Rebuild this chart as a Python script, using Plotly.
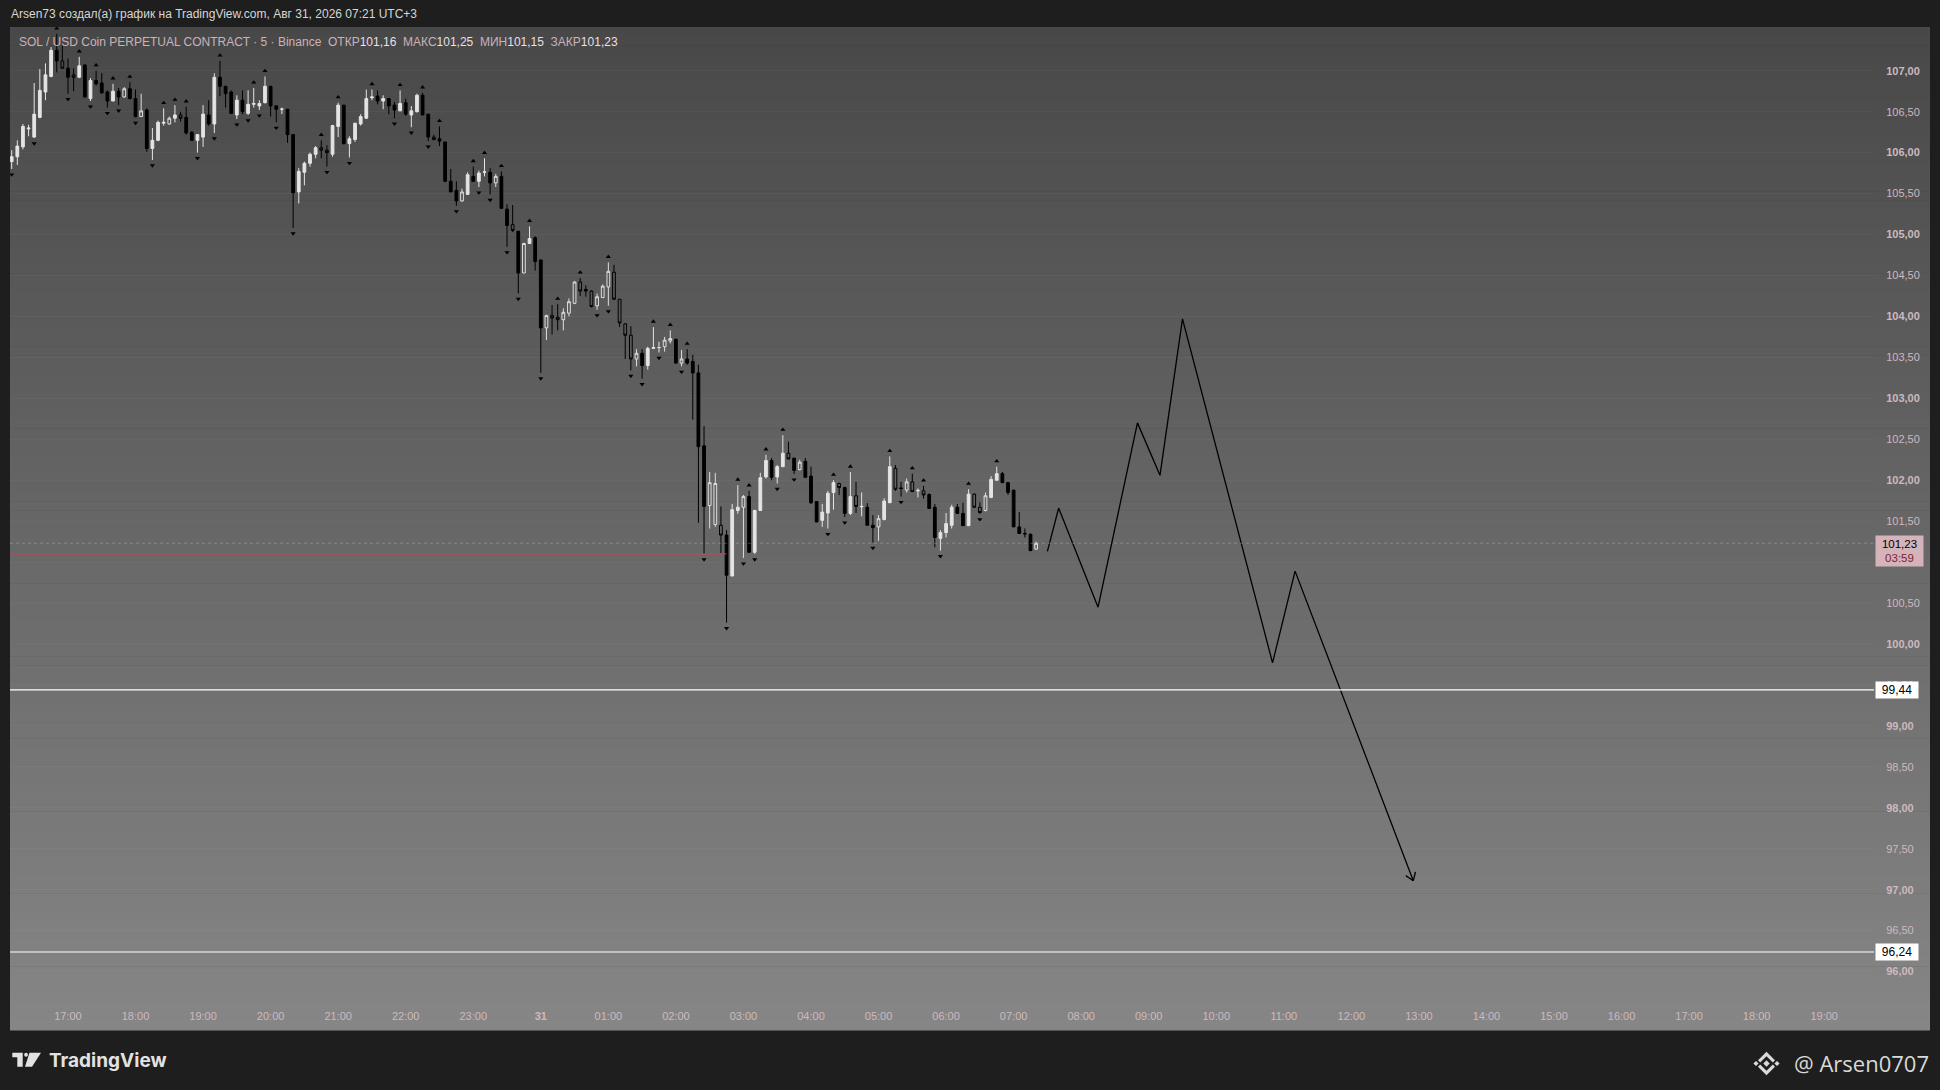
import math
import pandas as pd
import plotly.graph_objects as go

# ---------------- data ----------------
start_time = "2026-08-30 16:10"
opens = [
    105.89, 105.95, 106.07, 106.29, 106.19, 106.43, 106.74, 106.93, 107.25, 107.12,
    107.03, 106.95, 106.92, 107.07, 106.66, 106.88, 106.85, 106.74, 106.63, 106.75,
    106.68, 106.78, 106.66, 106.44, 106.52, 106.05, 106.15, 106.36, 106.35, 106.42,
    106.46, 106.43, 106.25, 106.15, 106.19, 106.46, 106.35, 106.92, 106.81, 106.74,
    106.46, 106.64, 106.48, 106.59, 106.57, 106.61, 106.81, 106.57, 106.53, 106.53,
    106.22, 105.52, 105.76, 105.87, 105.98, 106.06, 106.03, 105.98, 106.32, 106.58,
    106.11, 106.16, 106.35, 106.42, 106.67, 106.69, 106.63, 106.66, 106.58, 106.51,
    106.61, 106.46, 106.50, 106.70, 106.47, 106.19, 106.17, 106.13, 105.65, 105.54,
    105.41, 105.49, 105.71, 105.65, 105.76, 105.76, 105.63, 105.71, 105.31, 105.12,
    105.04, 104.53, 104.89, 104.96, 104.69, 103.86, 104.01, 103.99, 103.96, 104.04,
    104.16, 104.42, 104.33, 104.31, 104.13, 104.23, 104.36, 104.54, 104.21, 103.91,
    103.77, 103.48, 103.55, 103.40, 103.61, 103.62, 103.63, 103.70, 103.72, 103.43,
    103.48, 103.45, 103.31, 102.42, 101.69, 101.46, 101.45, 101.33, 100.83, 101.63,
    101.67, 101.80, 101.12, 101.63, 102.04, 102.24, 102.04, 102.165, 102.33, 102.27,
    102.13, 102.23, 102.05, 101.74, 101.51, 101.60, 101.85, 101.96, 101.91, 101.595,
    101.81, 101.675, 101.67, 101.45, 101.43, 101.52, 101.725, 102.145, 101.905, 101.88,
    101.98, 101.87, 101.87, 101.825, 101.67, 101.29, 101.36, 101.45, 101.67, 101.595,
    101.445, 101.83, 101.67, 101.63, 101.79, 102.00, 102.08, 101.97, 101.88, 101.43,
    101.35, 101.34, 101.16,
]
highs = [
    106.03, 106.15, 106.35, 106.34, 106.85, 107.02, 107.09, 107.29, 107.45, 107.31,
    107.15, 107.03, 107.17, 107.08, 106.91, 107.00, 106.97, 106.76, 106.84, 106.79,
    106.80, 106.86, 106.77, 106.72, 106.54, 106.30, 106.39, 106.54, 106.44, 106.58,
    106.50, 106.56, 106.26, 106.22, 106.58, 106.64, 106.97, 107.12, 106.81, 106.76,
    106.70, 106.76, 106.76, 106.79, 106.64, 106.93, 106.81, 106.58, 106.55, 106.53,
    106.22, 105.81, 105.89, 106.00, 106.08, 106.15, 106.09, 106.34, 106.61, 106.58,
    106.20, 106.36, 106.47, 106.77, 106.77, 106.76, 106.70, 106.66, 106.62, 106.76,
    106.66, 106.57, 106.72, 106.73, 106.47, 106.22, 106.32, 106.13, 105.80, 105.65,
    105.56, 105.76, 105.83, 105.78, 105.93, 105.81, 105.74, 105.77, 105.37, 105.36,
    105.04, 104.90, 105.10, 104.98, 104.69, 104.02, 104.14, 104.15, 104.10, 104.22,
    104.43, 104.47, 104.38, 104.32, 104.28, 104.39, 104.66, 104.63, 104.21, 103.91,
    103.88, 103.60, 103.60, 103.63, 103.87, 103.69, 103.75, 103.83, 103.73, 103.59,
    103.60, 103.53, 103.41, 102.66, 102.10, 102.09, 101.68, 101.39, 101.71, 101.94,
    101.82, 101.87, 101.64, 102.09, 102.31, 102.27, 102.185, 102.55, 102.47, 102.27,
    102.25, 102.27, 102.165, 101.74, 101.71, 101.87, 102.00, 101.97, 101.92, 102.10,
    101.98, 101.85, 101.72, 101.575, 101.575, 101.78, 102.29, 102.185, 101.98, 102.02,
    102.08, 101.90, 101.93, 101.84, 101.71, 101.39, 101.60, 101.70, 101.71, 101.725,
    101.89, 101.84, 101.73, 101.85, 102.05, 102.165, 102.10, 101.98, 101.88, 101.61,
    101.41, 101.35, 101.25,
]
lows = [
    105.80, 105.85, 106.04, 106.20, 106.18, 106.42, 106.64, 106.92, 106.98, 107.03,
    106.72, 106.75, 106.91, 106.67, 106.63, 106.82, 106.72, 106.55, 106.63, 106.58,
    106.67, 106.65, 106.43, 106.44, 106.01, 105.91, 106.14, 106.33, 106.34, 106.37,
    106.38, 106.22, 106.15, 106.00, 106.07, 106.33, 106.24, 106.69, 106.55, 106.47,
    106.41, 106.47, 106.46, 106.55, 106.52, 106.60, 106.44, 106.37, 106.47, 106.12,
    105.08, 105.38, 105.60, 105.83, 105.93, 105.93, 105.83, 105.95, 106.19, 106.10,
    105.94, 106.13, 106.33, 106.41, 106.64, 106.59, 106.53, 106.47, 106.42, 106.51,
    106.45, 106.31, 106.49, 106.46, 106.14, 106.15, 106.08, 105.64, 105.52, 105.35,
    105.40, 105.49, 105.645, 105.58, 105.71, 105.49, 105.58, 105.32, 104.85, 105.03,
    104.28, 104.53, 104.89, 104.56, 103.31, 103.71, 103.78, 103.83, 103.83, 104.00,
    104.15, 104.25, 104.24, 104.11, 104.08, 104.23, 104.13, 104.20, 103.87, 103.48,
    103.34, 103.39, 103.24, 103.35, 103.60, 103.56, 103.57, 103.67, 103.43, 103.39,
    103.41, 102.74, 101.48, 101.10, 101.41, 101.43, 101.11, 100.26, 100.83, 101.59,
    101.05, 101.12, 101.10, 101.63, 102.02, 102.00, 101.96, 102.165, 102.255, 102.075,
    102.12, 102.035, 101.71, 101.49, 101.43, 101.41, 101.64, 101.82, 101.55, 101.575,
    101.60, 101.56, 101.45, 101.24, 101.26, 101.51, 101.725, 101.87, 101.80, 101.85,
    101.86, 101.79, 101.775, 101.655, 101.18, 101.14, 101.30, 101.41, 101.59, 101.445,
    101.445, 101.66, 101.59, 101.62, 101.78, 102.00, 101.97, 101.82, 101.43, 101.35,
    101.30, 101.14, 101.15,
]
closes = [
    105.95, 106.08, 106.32, 106.30, 106.47, 106.76, 106.95, 107.25, 107.12, 107.03,
    106.92, 106.92, 107.06, 106.68, 106.88, 106.84, 106.73, 106.63, 106.75, 106.68,
    106.78, 106.66, 106.44, 106.51, 106.05, 106.15, 106.37, 106.37, 106.42, 106.46,
    106.42, 106.24, 106.15, 106.22, 106.47, 106.35, 106.92, 106.81, 106.72, 106.48,
    106.64, 106.50, 106.59, 106.60, 106.60, 106.81, 106.57, 106.53, 106.53, 106.22,
    105.51, 105.77, 105.87, 105.98, 106.06, 106.03, 106.00, 106.33, 106.58, 106.11,
    106.17, 106.36, 106.44, 106.66, 106.68, 106.63, 106.66, 106.57, 106.52, 106.60,
    106.47, 106.51, 106.70, 106.46, 106.19, 106.16, 106.14, 105.65, 105.52, 105.41,
    105.52, 105.73, 105.65, 105.75, 105.765, 105.63, 105.71, 105.32, 105.11, 105.05,
    104.53, 104.89, 104.95, 104.67, 103.86, 104.01, 103.98, 103.96, 104.05, 104.18,
    104.42, 104.31, 104.31, 104.12, 104.24, 104.37, 104.55, 104.21, 103.92, 103.77,
    103.48, 103.55, 103.40, 103.61, 103.62, 103.62, 103.71, 103.73, 103.43, 103.48,
    103.43, 103.31, 102.41, 101.68, 101.97, 101.96, 101.33, 100.84, 101.64, 101.67,
    101.80, 101.12, 101.63, 102.03, 102.24, 102.035, 102.165, 102.33, 102.26, 102.12,
    102.22, 102.035, 101.725, 101.49, 101.61, 101.84, 101.97, 101.91, 101.595, 101.80,
    101.68, 101.68, 101.45, 101.42, 101.53, 101.745, 102.165, 101.89, 101.90, 101.98,
    101.86, 101.875, 101.82, 101.655, 101.30, 101.36, 101.47, 101.67, 101.595, 101.445,
    101.83, 101.67, 101.605, 101.81, 102.01, 102.08, 101.97, 101.85, 101.43, 101.35,
    101.345, 101.14, 101.23,
]
# W = white filled, B = black filled, w = white hollow, b = black hollow
styles = list(
    "WWWWWWWWBb" "BbWBWBBBWB" "wBBwBWWWwW" "bBBWWBWBBB" "WBWWWWBBWB"
    "BWWWWbbWWB" "WWWWWBWBBW" "BWWBBbBBBB" "wWBWWBwBBb" "BwWBBwbbww"
    "wbBbwwwbbb" "bwBWWWwwBw" "BBBBwwbBWW" "wBWWWBWWbB" "wBBBWWWbBW"
    "bWBBwWWbBw" "bWbBBWWWBB" "WbbwWWBBBB" "BBw"
)
fractal_up_idx = [8, 12, 15, 18, 21, 27, 29, 31, 37, 43, 45, 55, 58, 64, 69, 73, 76,
                  82, 84, 87, 92, 97, 101, 106, 114, 117, 120, 129, 131, 134, 137,
                  146, 149, 156, 160, 162, 170, 175]
fractal_dn_idx = [0, 4, 10, 14, 17, 19, 22, 25, 33, 36, 40, 42, 44, 47, 50, 56, 60,
                  68, 71, 74, 79, 83, 85, 88, 90, 94, 104, 106, 110, 112, 115, 119,
                  123, 127, 130, 132, 136, 139, 145, 148, 153, 158, 165, 172]

proj_times = ["2026-08-31 07:30", "2026-08-31 07:40", "2026-08-31 08:15",
              "2026-08-31 08:50", "2026-08-31 09:10", "2026-08-31 09:30",
              "2026-08-31 10:50", "2026-08-31 11:10", "2026-08-31 12:55"]
proj_prices = [101.13, 101.66, 100.45, 102.70, 102.06, 103.97, 99.77, 100.89, 97.11]

red_level = 101.10
red_end_idx = 127
white_levels = [99.44, 96.24]
white_labels = ["99,44", "96,24"]
last_price = 101.23
last_label = "101,23"
countdown = "03:59"

# the 101,00 label sits fully under the last-price box in the original, so it is left blank
y_tick_vals = [96.0 + 0.5 * k for k in range(23)]
y_tick_labels = ["96,00", "96,50", "97,00", "97,50", "98,00", "98,50", "99,00", "99,50",
                 "100,00", "100,50", "", "101,50", "102,00", "102,50", "103,00",
                 "103,50", "104,00", "104,50", "105,00", "105,50", "106,00", "106,50",
                 "107,00"]
x_tick_vals = pd.date_range("2026-08-30 17:00", "2026-08-31 19:00", freq="1h")
x_tick_labels = ["17:00", "18:00", "19:00", "20:00", "21:00", "22:00", "23:00", "31",
                 "01:00", "02:00", "03:00", "04:00", "05:00", "06:00", "07:00", "08:00",
                 "09:00", "10:00", "11:00", "12:00", "13:00", "14:00", "15:00", "16:00",
                 "17:00", "18:00", "19:00"]

header_text = "Arsen73 создал(а) график на TradingView.com, Авг 31, 2026 07:21 UTC+3"
symbol_text = "SOL / USD Coin PERPETUAL CONTRACT · 5 · Binance"
ohlc_names = ["ОТКР", "МАКС", "МИН", "ЗАКР"]
ohlc_vals = ["101,16", "101,25", "101,15", "101,23"]

# ---------------- geometry ----------------
W, H = 1940, 1090
L, R, T, B = 10, 66, 27, 90
PW, PH = W - L - R, H - T - B
x_range = [pd.Timestamp("2026-08-30 16:08:30"), pd.Timestamp("2026-08-31 19:44:15")]
y_range = [95.653, 107.534]
px_per_ms = PW / ((x_range[1] - x_range[0]).total_seconds() * 1000)
px_per_unit = PH / (y_range[1] - y_range[0])


def PX(px):
    return (px - L) / PW


def PY(py):
    return (T + PH - py) / PH


times = pd.date_range(start_time, periods=len(opens), freq="5min")

fig = go.Figure()

# background gradient panel
shapes = []
n_bands = 110
top_px, bot_px = 27, 1030
c0, c1 = (72, 72, 72), (134, 134, 134)
for k in range(n_bands):
    y0 = top_px + (bot_px - top_px) * k / n_bands
    y1 = top_px + (bot_px - top_px) * (k + 1) / n_bands + 0.6
    f = (k + 0.5) / n_bands
    c = tuple(int(round(c0[j] + (c1[j] - c0[j]) * f)) for j in range(3))
    shapes.append(dict(type="rect", xref="paper", yref="paper",
                       x0=PX(10), x1=PX(1930), y0=PY(y1), y1=PY(y0),
                       fillcolor="rgb(%d,%d,%d)" % c, line=dict(width=0), layer="below"))

# horizontal levels
for lv in white_levels:
    shapes.append(dict(type="line", xref="paper", yref="y", x0=0, x1=1, y0=lv, y1=lv,
                       line=dict(color="#ffffff", width=1.1), layer="above"))
shapes.append(dict(type="line", xref="x", yref="y", x0=x_range[0], x1=times[red_end_idx],
                   y0=red_level, y1=red_level, line=dict(color="#d2414f", width=1)))
shapes.append(dict(type="line", xref="paper", yref="y", x0=0, x1=1, y0=last_price,
                   y1=last_price, line=dict(color="rgba(215,215,215,0.28)", width=1, dash="dot")))

# candles
style_map = {
    "W": ("#e4e4e4", "#e4e4e4"),
    "B": ("#000000", "#000000"),
    "w": ("#dedede", "rgba(0,0,0,0)"),
    "b": ("#000000", "rgba(0,0,0,0)"),
}
for code, (lc, fc) in style_map.items():
    idx = [i for i, s in enumerate(styles) if s == code]
    st = dict(line=dict(color=lc, width=1), fillcolor=fc)
    fig.add_trace(go.Candlestick(
        x=[times[i] for i in idx], open=[opens[i] for i in idx],
        high=[highs[i] for i in idx], low=[lows[i] for i in idx],
        close=[closes[i] for i in idx], increasing=st, decreasing=st,
        whiskerwidth=0, showlegend=False, hoverinfo="skip"))

# fractal markers
off = 5.5 / px_per_unit
fig.add_trace(go.Scatter(x=[times[i] for i in fractal_up_idx],
                         y=[highs[i] + off for i in fractal_up_idx], mode="markers",
                         marker=dict(symbol="triangle-up", size=4.5, color="#000000"),
                         showlegend=False, hoverinfo="skip"))
fig.add_trace(go.Scatter(x=[times[i] for i in fractal_dn_idx],
                         y=[lows[i] - off for i in fractal_dn_idx], mode="markers",
                         marker=dict(symbol="triangle-down", size=4.5, color="#000000"),
                         showlegend=False, hoverinfo="skip"))

# projection path
pt = pd.to_datetime(proj_times)
fig.add_trace(go.Scatter(x=pt, y=proj_prices, mode="lines",
                         line=dict(color="#000000", width=1.3),
                         showlegend=False, hoverinfo="skip"))
# arrow head (computed in pixel space from the last segment)
dxp = (pt[-1] - pt[-2]).total_seconds() * 1000 * px_per_ms
dyp = -(proj_prices[-1] - proj_prices[-2]) * px_per_unit
ln = math.hypot(dxp, dyp)
ux, uy = dxp / ln, dyp / ln
head_x, head_y = [], []
for ang in (math.radians(35), math.radians(-35)):
    ex = -(ux * math.cos(ang) - uy * math.sin(ang))
    ey = -(ux * math.sin(ang) + uy * math.cos(ang))
    head_x += [pt[-1] + pd.Timedelta(milliseconds=ex * 9 / px_per_ms), pt[-1], None]
    head_y += [proj_prices[-1] - ey * 9 / px_per_unit, proj_prices[-1], None]
fig.add_trace(go.Scatter(x=head_x, y=head_y, mode="lines",
                         line=dict(color="#000000", width=1.3),
                         showlegend=False, hoverinfo="skip"))

# ---------------- annotations ----------------
ann = []
ann.append(dict(text=header_text, xref="paper", yref="paper", x=PX(9), y=PY(14.5),
                xanchor="left", yanchor="middle", showarrow=False,
                font=dict(family="Liberation Sans", size=12, color="#d6d6d6")))
lab_c, val_c = "#c9b3ba", "#eadfe2"
parts = ['<span style="color:%s">%s</span>' % (lab_c, symbol_text)]
for nm, vl in zip(ohlc_names, ohlc_vals):
    parts.append('<span style="color:%s">%s</span><span style="color:%s">%s</span>'
                 % (lab_c, nm, val_c, vl))
ann.append(dict(text="  ".join(parts), xref="paper", yref="paper", x=PX(17), y=PY(41.5),
                xanchor="left", yanchor="middle", showarrow=False,
                font=dict(family="Liberation Sans", size=12, color=lab_c)))
for lv, lb in zip(white_levels, white_labels):
    ann.append(dict(text=lb, xref="paper", yref="y", x=PX(1875), y=lv, xanchor="left",
                    yanchor="middle", showarrow=False, bgcolor="#ffffff", width=40,
                    height=14, borderpad=1, align="center",
                    font=dict(family="Liberation Sans", size=12, color="#000000")))
ann.append(dict(text='%s<br><span style="color:#7d1f2c">%s</span>' % (last_label, countdown),
                xref="paper", yref="y", x=PX(1875), y=last_price + 8.5 / px_per_unit,
                xanchor="left", yanchor="top", showarrow=False, bgcolor="#d4b3bb",
                width=45, height=28, borderpad=1, align="center",
                font=dict(family="Liberation Sans", size=11.5, color="#000000")))
ann.append(dict(text="<b>TradingView</b>", xref="paper", yref="paper", x=PX(47), y=PY(1060),
                xanchor="left", yanchor="middle", showarrow=False,
                font=dict(family="Inter", size=19, color="#e2e2e2")))
ann.append(dict(text="@ Arsen0707", xref="paper", yref="paper", x=PX(1931), y=PY(1063),
                xanchor="right", yanchor="middle", showarrow=False,
                font=dict(family="Open Sans", size=22, color="#d9d9d9")))


def path(points):
    return "M" + "L".join("%f,%f" % (PX(a), PY(b)) for a, b in points) + "Z"


logo_c = "#e2e2e2"
logo_paths = [
    [(12.3, 1052.7), (22.7, 1052.7), (22.7, 1066.7), (17.3, 1066.7), (17.3, 1057.3), (12.3, 1057.3)],
    [(29.5, 1052.7), (41.0, 1052.7), (32.0, 1066.7), (25.0, 1066.7)],
]
for pth in logo_paths:
    shapes.append(dict(type="path", xref="paper", yref="paper", path=path(pth),
                       fillcolor=logo_c, line=dict(width=0)))
shapes.append(dict(type="circle", xref="paper", yref="paper", x0=PX(24.2), x1=PX(27.9),
                   y0=PY(1056.8), y1=PY(1052.8), fillcolor=logo_c, line=dict(width=0)))

# Binance-like icon
cx, cy = 1766.5, 1063.5
bn = "#d9d9d9"
for (dx, hs) in [(0, 3.2), (-10.5, 2.6), (10.5, 2.6)]:
    shapes.append(dict(type="path", xref="paper", yref="paper",
                       path=path([(cx + dx, cy - hs), (cx + dx + hs, cy), (cx + dx, cy + hs), (cx + dx - hs, cy)]),
                       fillcolor=bn, line=dict(width=0)))
for sgn in (-1, 1):
    pts = [(cx - 8.5, cy + sgn * 3.2), (cx, cy + sgn * 11.7), (cx + 8.5, cy + sgn * 3.2),
           (cx + 6.3, cy + sgn * 1.0), (cx, cy + sgn * 7.3), (cx - 6.3, cy + sgn * 1.0)]
    shapes.append(dict(type="path", xref="paper", yref="paper", path=path(pts),
                       fillcolor=bn, line=dict(width=0)))

y_text = ["<b>%s</b>" % t if t.endswith(",00") else t for t in y_tick_labels]
x_text = ["<b>%s</b>" % t if ":" not in t else t for t in x_tick_labels]

fig.update_layout(
    width=W, height=H, margin=dict(l=L, r=R, t=T, b=B, pad=0),
    paper_bgcolor="#1e1e1e", plot_bgcolor="rgba(0,0,0,0)",
    shapes=shapes, annotations=ann, showlegend=False, hovermode=False,
    xaxis=dict(type="date", range=x_range, rangeslider=dict(visible=False),
               showgrid=False, zeroline=False, showline=False,
               tickvals=x_tick_vals, ticktext=x_text, ticks="outside", ticklen=6,
               tickcolor="rgba(0,0,0,0)",
               tickfont=dict(family="Liberation Sans", size=11, color="#cdb9bf")),
    yaxis=dict(range=y_range, side="right", showgrid=True,
               gridcolor="rgba(255,255,255,0.03)", gridwidth=1, zeroline=False,
               showline=False, tickvals=y_tick_vals, ticktext=y_text, ticks="outside",
               ticklen=9, tickcolor="rgba(0,0,0,0)",
               tickfont=dict(family="Liberation Sans", size=11, color="#cdb9bf")),
)

fig.write_html("out.html", config={"displayModeBar": False},
               post_script="document.body.style.margin='0px';document.body.style.overflow='hidden';")
